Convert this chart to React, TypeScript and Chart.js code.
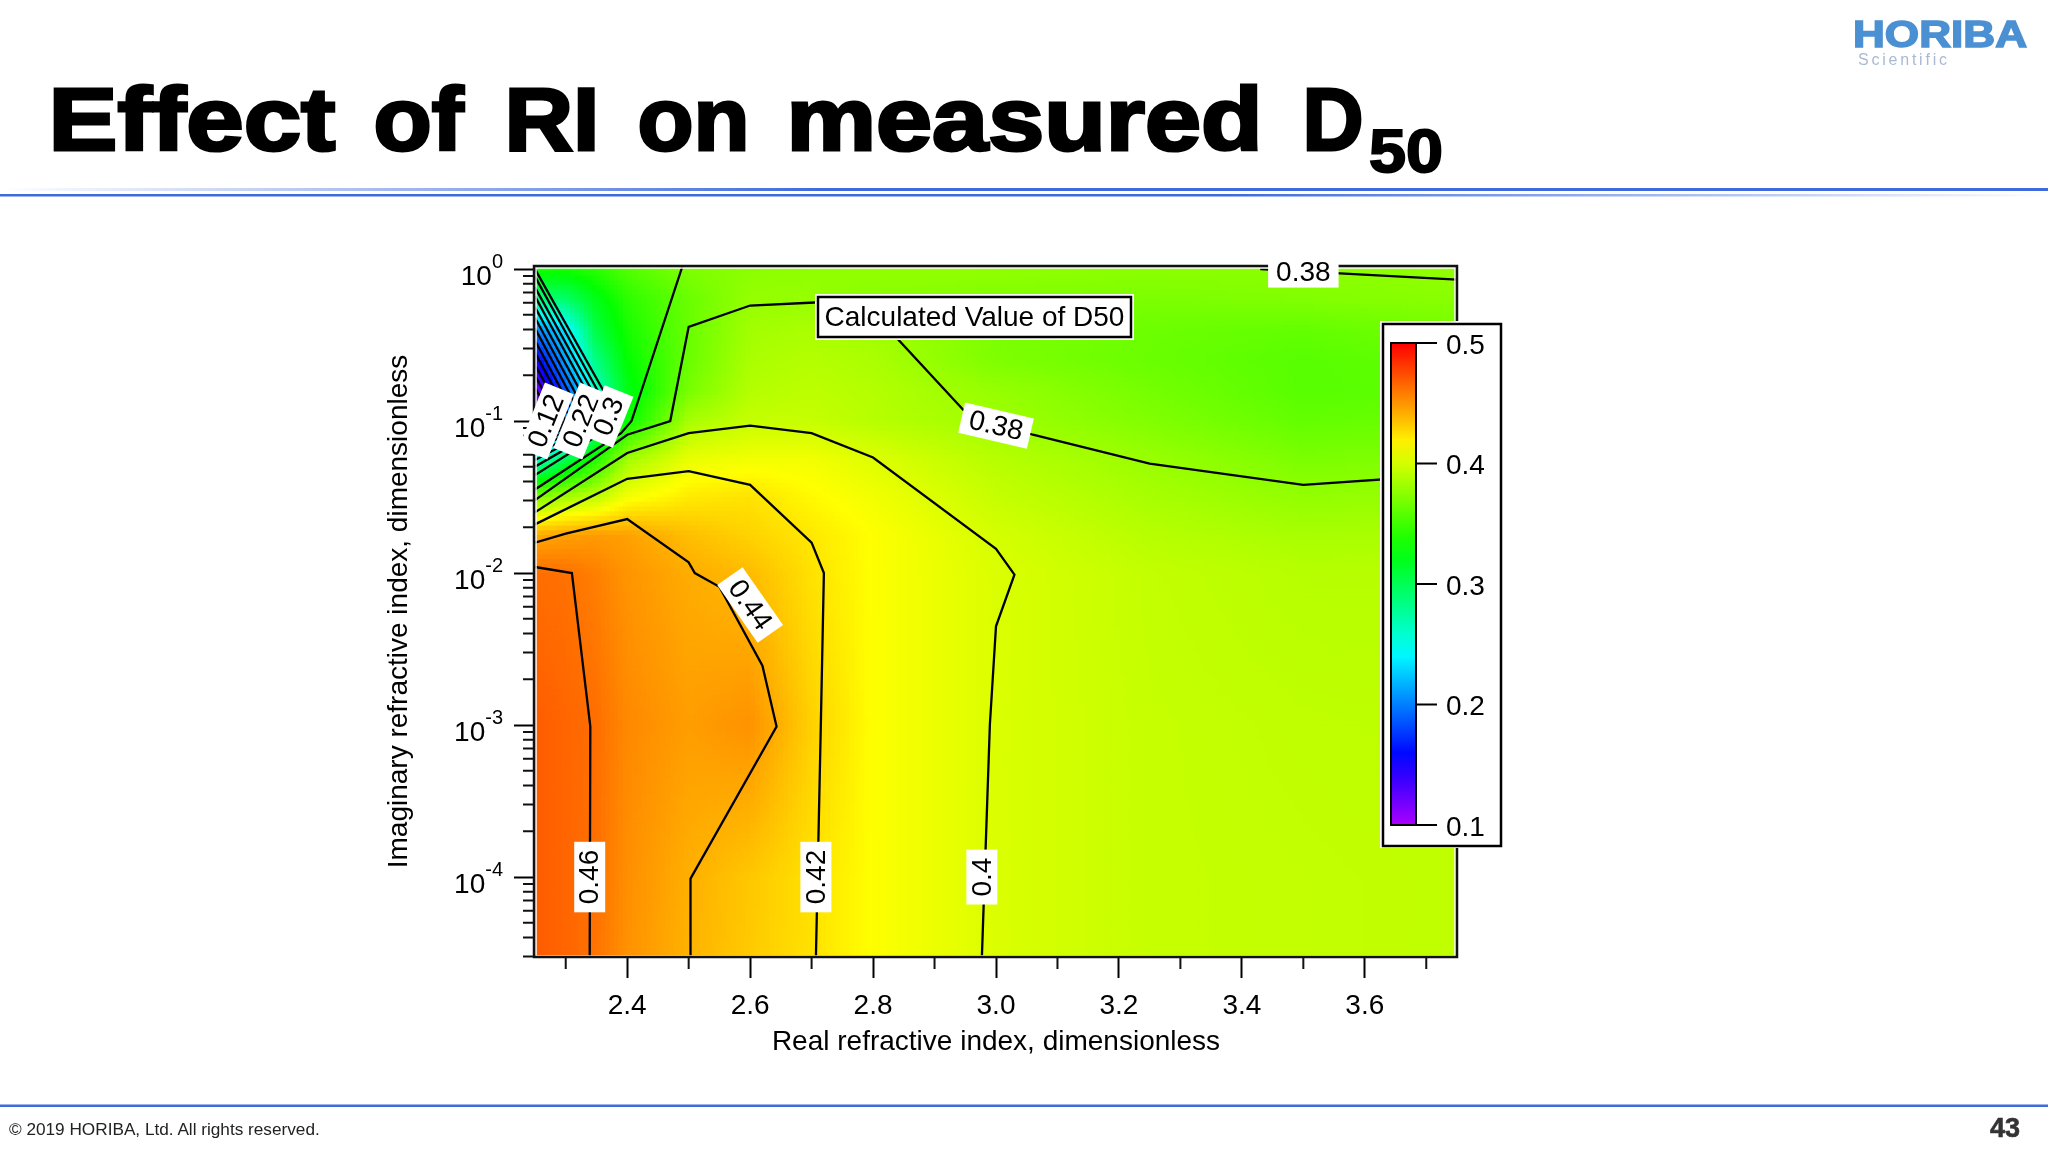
import { useEffect, useRef } from "react";
import { Chart, registerables } from "chart.js";

Chart.register(...registerables);

const FONT = '"Liberation Sans", Arial, sans-serif';

// heat map nodes (D50 value per node)
const nNodes = [2.25, 2.3, 2.35, 2.4, 2.5, 2.6, 2.7, 2.8, 3.0, 3.25, 3.5, 3.75];
const kExpNodes = [0.02, -0.2, -0.4, -0.6, -0.8, -1, -1.25, -1.5, -1.75, -2, -3, -4, -4.53];

const rowK0 = [0.343, 0.34, 0.345, 0.357, 0.372, 0.375, 0.377, 0.378, 0.378, 0.376, 0.376, 0.378];
const rowK02 = [0.286, 0.293, 0.321, 0.343, 0.364, 0.379, 0.379, 0.375, 0.372, 0.37, 0.372, 0.375];
const rowK04 = [0.2, 0.236, 0.307, 0.336, 0.364, 0.383, 0.386, 0.383, 0.37, 0.365, 0.362, 0.368];
const rowK06 = [0.15, 0.214, 0.286, 0.329, 0.364, 0.386, 0.389, 0.386, 0.371, 0.364, 0.358, 0.362];
const rowK08 = [0.114, 0.186, 0.264, 0.321, 0.369, 0.389, 0.392, 0.389, 0.379, 0.368, 0.358, 0.36];
const rowK10 = [0.11, 0.2, 0.28, 0.33, 0.385, 0.395, 0.395, 0.39, 0.382, 0.372, 0.362, 0.365];
const rowK125 = [0.257, 0.3, 0.34, 0.383, 0.407, 0.41, 0.41, 0.403, 0.39, 0.38, 0.37, 0.372];
const rowK15 = [0.371, 0.385, 0.393, 0.411, 0.421, 0.424, 0.416, 0.41, 0.395, 0.385, 0.378, 0.38];
const rowK175 = [0.443, 0.446, 0.448, 0.446, 0.436, 0.429, 0.422, 0.414, 0.4, 0.39, 0.385, 0.386];
const rowK20 = [0.463, 0.462, 0.457, 0.45, 0.442, 0.437, 0.424, 0.414, 0.402, 0.394, 0.39, 0.39];
const rowK30 = [0.469, 0.466, 0.463, 0.454, 0.447, 0.451, 0.43, 0.414, 0.402, 0.395, 0.393, 0.392];
const rowK40 = [0.469, 0.466, 0.462, 0.452, 0.441, 0.433, 0.424, 0.414, 0.402, 0.395, 0.394, 0.393];
const rowK45 = [0.469, 0.466, 0.461, 0.451, 0.44, 0.432, 0.424, 0.414, 0.402, 0.395, 0.394, 0.393];
const heatRows = [rowK0, rowK02, rowK04, rowK06, rowK08, rowK10, rowK125, rowK15, rowK175, rowK20, rowK30, rowK40, rowK45];

// contour lines as [real index, log10 of imaginary index]
const contour046 = [[2.25, -1.96], [2.31, -2.0], [2.34, -3.01], [2.339, -4.53]];
const contour044 = [[2.25, -1.8], [2.3, -1.74], [2.4, -1.645], [2.5, -1.93], [2.51, -2.0], [2.55, -2.09], [2.62, -2.61], [2.643, -3.01], [2.503, -4.01], [2.503, -4.53]];
const contour042 = [[2.25, -1.68], [2.4, -1.38], [2.5, -1.33], [2.6, -1.42], [2.7, -1.8], [2.72, -2.0], [2.715, -3.0], [2.707, -4.53]];
const contour040 = [[2.25, -1.6], [2.4, -1.21], [2.5, -1.08], [2.6, -1.03], [2.7, -1.08], [2.8, -1.24], [3.0, -1.84], [3.03, -2.01], [3.0, -2.35], [2.99, -3.0], [2.977, -4.53]];
const contour038 = [[2.25, -1.52], [2.4, -1.09], [2.47, -1.0], [2.5, -0.38], [2.6, -0.24], [2.705, -0.22], [2.84, -0.46], [2.95, -0.94], [3.06, -1.09], [3.25, -1.28], [3.5, -1.42], [3.75, -1.35]];
const contour038top = [[3.43, 0.0], [3.75, -0.07]];
const contour036 = [[2.25, -1.45], [2.39, -1.08], [2.407, -1.0], [2.49, 0.02]];

// fan of lines in the top left corner, one entry per level
const fanLevels = [0.34, 0.32, 0.3, 0.28, 0.26, 0.24, 0.22, 0.2, 0.18, 0.16, 0.14, 0.12];
const fanTopExp = [0, -0.05, -0.12, -0.18, -0.25, -0.32, -0.39, -0.47, -0.55, -0.63, -0.7, -0.78];
const fanApexN = [2.389, 2.379, 2.37, 2.36, 2.35, 2.34, 2.33, 2.32, 2.31, 2.3, 2.29, 2.28];
const fanBottomExp = [-1.355, -1.3, -1.257, -1.217, -1.184, -1.158, -1.13, -1.11, -1.09, -1.07, -1.05, -1.03];

// contour labels
const labelTexts = ["0.38", "0.38", "0.44", "0.46", "0.42", "0.4", "0.12", "0.22", "0.3"];
const labelN = [3.5, 3.0, 2.6, 2.339, 2.707, 2.977, 2.268, 2.325, 2.37];
const labelExp = [-0.02, -1.03, -2.21, -4.0, -4.0, -4.0, -1.0, -1.0, -0.97];
const labelAngle = [0, 13, 55, -90, -90, -90, -68, -68, -68];

const xMajorTicks = [2.4, 2.6, 2.8, 3.0, 3.2, 3.4, 3.6];
const xMinorTicks = [2.3, 2.5, 2.7, 2.9, 3.1, 3.3, 3.5, 3.7];
const yDecades = [0, -1, -2, -3, -4];
const yMinorMultipliers = [2, 3, 4, 5, 6, 7, 8, 9];
const colorbarTicks = [0.5, 0.4, 0.3, 0.2, 0.1];

// slide title, word by word because the original font has wide gaps
const titleWords = ["Effect", "of", "RI", "on", "measured", "D"];
const titleStart = [47, 372, 503, 636, 785, 1301];
const titleEnd = [337, 465, 601, 751, 1264, 1365];

const toPoints = (line: number[][]) => line.map(([n, e]) => ({ x: n, y: 10 ** e }));

const fanLines = fanLevels.map((_, i) => [
  [2.25, fanTopExp[i]],
  [fanApexN[i], -1.0],
  [2.25, fanBottomExp[i]],
]);

const contourLines = [contour046, contour044, contour042, contour040, contour038, contour038top, contour036, ...fanLines];

// rainbow colour table of the picture: red at 0.5, purple at 0.1
const heatColor = (v: number) => `hsl(${(0.5 - v) * 700}, 100%, 50%)`;

const heatMapPlugin = {
  id: "heatMap",
  beforeDatasetsDraw(chart: any) {
    const { ctx, chartArea, scales } = chart;
    ctx.save();
    ctx.beginPath();
    ctx.rect(chartArea.left, chartArea.top, chartArea.width, chartArea.height);
    ctx.clip();
    for (let j = 0; j < kExpNodes.length - 1; j++) {
      const y0 = scales.y.getPixelForValue(10 ** kExpNodes[j]);
      const y1 = scales.y.getPixelForValue(10 ** kExpNodes[j + 1]);
      for (let i = 0; i < nNodes.length - 1; i++) {
        const x0 = scales.x.getPixelForValue(nNodes[i]);
        const x1 = scales.x.getPixelForValue(nNodes[i + 1]);
        const nx = Math.ceil((x1 - x0) / 5);
        const ny = Math.ceil((y1 - y0) / 5);
        // shade the cell between its four corners
        for (let a = 0; a < nx; a++) {
          for (let b = 0; b < ny; b++) {
            const u = (a + 0.5) / nx;
            const w = (b + 0.5) / ny;
            const v =
              heatRows[j][i] * (1 - u) * (1 - w) +
              heatRows[j][i + 1] * u * (1 - w) +
              heatRows[j + 1][i] * (1 - u) * w +
              heatRows[j + 1][i + 1] * u * w;
            ctx.fillStyle = heatColor(v);
            ctx.fillRect(x0 + (a * (x1 - x0)) / nx, y0 + (b * (y1 - y0)) / ny, (x1 - x0) / nx + 1, (y1 - y0) / ny + 1);
          }
        }
      }
    }
    ctx.restore();
  },
};

const drawRotatedLabel = (ctx: CanvasRenderingContext2D, text: string, x: number, y: number, angle: number) => {
  ctx.save();
  ctx.translate(x, y);
  ctx.rotate((angle * Math.PI) / 180);
  ctx.font = `28px ${FONT}`;
  const w = ctx.measureText(text).width + 16;
  ctx.fillStyle = "#fff";
  ctx.fillRect(-w / 2, -15.5, w, 31);
  ctx.fillStyle = "#000";
  ctx.textAlign = "center";
  ctx.textBaseline = "middle";
  ctx.fillText(text, 0, 1);
  ctx.restore();
};

const overlayPlugin = {
  id: "overlay",
  afterDatasetsDraw(chart: any) {
    const { ctx, chartArea, scales } = chart;
    const { left, right, top, bottom } = chartArea;
    ctx.save();

    // plot frame with the thin white edge inside it
    ctx.strokeStyle = "#fff";
    ctx.lineWidth = 1.5;
    ctx.strokeRect(left + 1, top + 2, right - left - 3, bottom - top - 3);
    ctx.strokeStyle = "#111";
    ctx.lineWidth = 2.5;
    ctx.strokeRect(left - 1, top, right - left + 1, bottom - top);

    // minor ticks, the library only draws one tick length
    ctx.lineWidth = 2;
    ctx.beginPath();
    xMinorTicks.forEach((v) => {
      const x = scales.x.getPixelForValue(v);
      ctx.moveTo(x, bottom);
      ctx.lineTo(x, bottom + 12);
    });
    yDecades.concat([-5]).forEach((d) => {
      yMinorMultipliers.forEach((m) => {
        const val = m * 10 ** d;
        if (val < scales.y.min || val > scales.y.max) return;
        const y = scales.y.getPixelForValue(val);
        ctx.moveTo(left, y);
        ctx.lineTo(left - 12, y);
      });
    });
    ctx.stroke();

    // y tick labels with a real superscript
    ctx.fillStyle = "#000";
    ctx.textBaseline = "middle";
    ctx.textAlign = "right";
    yDecades.forEach((d) => {
      const y = scales.y.getPixelForValue(10 ** d);
      ctx.font = `20px ${FONT}`;
      const sup = String(d);
      ctx.fillText(sup, 503, y - 7);
      const w = ctx.measureText(sup).width;
      ctx.font = `28px ${FONT}`;
      ctx.fillText("10", 503 - w, y + 8);
    });

    // contour labels
    labelTexts.forEach((t, i) => {
      drawRotatedLabel(ctx, t, scales.x.getPixelForValue(labelN[i]), scales.y.getPixelForValue(10 ** labelExp[i]), labelAngle[i]);
    });

    // callout
    ctx.fillStyle = "#fff";
    ctx.fillRect(815, 294, 319, 46);
    ctx.strokeStyle = "#000";
    ctx.lineWidth = 2.5;
    ctx.strokeRect(818, 297, 313, 40);
    ctx.fillStyle = "#000";
    ctx.font = `28px ${FONT}`;
    ctx.textAlign = "center";
    ctx.fillText("Calculated Value of D50", 974.5, 318);

    // colour bar panel
    ctx.fillStyle = "#fff";
    ctx.fillRect(1380, 321, 124, 527);
    ctx.lineWidth = 2.5;
    ctx.strokeRect(1383, 324, 118, 522);
    const barTop = 343;
    const barBottom = 825;
    const barY = (v: number) => barBottom - ((v - 0.1) / 0.4) * (barBottom - barTop);
    const grad = ctx.createLinearGradient(0, barTop, 0, barBottom);
    for (let v = 0.1; v <= 0.5001; v += 0.02) {
      grad.addColorStop((0.5 - Math.min(v, 0.5)) / 0.4, heatColor(Math.min(v, 0.5)));
    }
    ctx.fillStyle = grad;
    ctx.fillRect(1391, barTop, 25, barBottom - barTop);
    ctx.lineWidth = 2;
    ctx.strokeRect(1391, barTop, 25, barBottom - barTop);
    ctx.fillStyle = "#000";
    ctx.textAlign = "left";
    colorbarTicks.forEach((v) => {
      const y = barY(v);
      ctx.beginPath();
      ctx.moveTo(1416, y);
      ctx.lineTo(1437, y);
      ctx.stroke();
      ctx.fillText(v.toFixed(1), 1446, y + 3);
    });
    ctx.restore();
  },
};

const App = () => {
  const canvasRef = useRef<HTMLCanvasElement | null>(null);

  useEffect(() => {
    document.body.style.margin = "0";
    document.body.style.background = "#fff";
    if (!canvasRef.current) return;
    const chart = new Chart(canvasRef.current, {
      type: "scatter",
      data: {
        datasets: contourLines.map((line) => ({
          data: toPoints(line),
          showLine: true,
          borderColor: "#000",
          borderWidth: 2.3,
          pointRadius: 0,
          tension: 0,
        })),
      },
      options: {
        animation: false,
        responsive: false,
        devicePixelRatio: 1,
        layout: { padding: { left: 0, top: 266, right: 591, bottom: 0 } },
        plugins: { legend: { display: false }, tooltip: { enabled: false } },
        scales: {
          x: {
            type: "linear",
            min: 2.25,
            max: 3.75,
            afterFit: (s: any) => {
              s.height = 195;
            },
            afterBuildTicks: (s: any) => {
              s.ticks = xMajorTicks.map((value) => ({ value }));
            },
            border: { display: false },
            grid: { drawOnChartArea: false, tickLength: 21, tickColor: "#000", tickWidth: 2 },
            ticks: {
              autoSkip: false,
              maxRotation: 0,
              padding: 11,
              color: "#000",
              font: { family: FONT, size: 28 },
              callback: (v: any) => Number(v).toFixed(1),
            },
            title: {
              display: true,
              text: "Real refractive index, dimensionless",
              color: "#000",
              font: { family: FONT, size: 28 },
              padding: { top: 0, bottom: 93 },
            },
          },
          y: {
            type: "logarithmic",
            min: 10 ** -4.526,
            max: 10 ** 0.02,
            afterFit: (s: any) => {
              s.width = 535;
            },
            afterBuildTicks: (s: any) => {
              s.ticks = yDecades.map((d) => ({ value: 10 ** d }));
            },
            border: { display: false },
            grid: { drawOnChartArea: false, tickLength: 21, tickColor: "#000", tickWidth: 2 },
            ticks: { display: false },
            title: {
              display: true,
              text: "Imaginary refractive index, dimensionless",
              color: "#000",
              font: { family: FONT, size: 28 },
              padding: { top: 382, bottom: 0 },
            },
          },
        },
      },
      plugins: [heatMapPlugin, overlayPlugin],
    } as any);
    return () => chart.destroy();
  }, []);

  return (
    <div style={{ position: "absolute", left: 0, top: 0, width: 2048, height: 1152, overflow: "hidden", background: "#fff" }}>
      <canvas ref={canvasRef} width={2048} height={1152} style={{ display: "block" }} />
      <svg width={2048} height={1152} style={{ position: "absolute", left: 0, top: 0, pointerEvents: "none" }} fontFamily={FONT}>
        <defs>
          <linearGradient id="ruleTop" x1="0" x2="1" y1="0" y2="0">
            <stop offset="0" stopColor="#3f6bdc" stopOpacity="0" />
            <stop offset="0.4" stopColor="#3f6bdc" stopOpacity="1" />
            <stop offset="1" stopColor="#3f6bdc" stopOpacity="1" />
          </linearGradient>
          <linearGradient id="ruleBottom" x1="0" x2="1" y1="0" y2="0">
            <stop offset="0" stopColor="#3f6bdc" stopOpacity="1" />
            <stop offset="0.6" stopColor="#3f6bdc" stopOpacity="1" />
            <stop offset="1" stopColor="#3f6bdc" stopOpacity="0" />
          </linearGradient>
        </defs>
        {titleWords.map((word, i) => (
          <text
            key={word}
            x={titleStart[i] + 1.5}
            y={150}
            fontSize={89}
            fontWeight="bold"
            stroke="#000"
            strokeWidth={3}
            textLength={titleEnd[i] - titleStart[i] - 3}
            lengthAdjust="spacingAndGlyphs"
          >
            {word}
          </text>
        ))}
        <text x={1369} y={172} fontSize={62} fontWeight="bold" stroke="#000" strokeWidth={2} textLength={74} lengthAdjust="spacingAndGlyphs">
          50
        </text>
        <text x={1853} y={47} fontSize={36} fontWeight="bold" fill="#4a90d2" stroke="#4a90d2" strokeWidth={1.5} textLength={174} lengthAdjust="spacingAndGlyphs">
          HORIBA
        </text>
        <text x={1858} y={65} fontSize={16} fill="#a9b9d3" textLength={89} lengthAdjust="spacing">
          Scientific
        </text>
        <rect x={0} y={188} width={2048} height={3} fill="url(#ruleTop)" />
        <rect x={0} y={194} width={2048} height={2.5} fill="url(#ruleBottom)" />
        <rect x={0} y={1104.5} width={2048} height={2.5} fill="#3f6bdc" />
        <text x={9} y={1135} fontSize={17.2} fill="#222">
          © 2019 HORIBA, Ltd. All rights reserved.
        </text>
        <text x={1990} y={1137} fontSize={27} fontWeight="bold" fill="#333" stroke="#333" strokeWidth={0.6}>
          43
        </text>
      </svg>
    </div>
  );
};

export default App;
